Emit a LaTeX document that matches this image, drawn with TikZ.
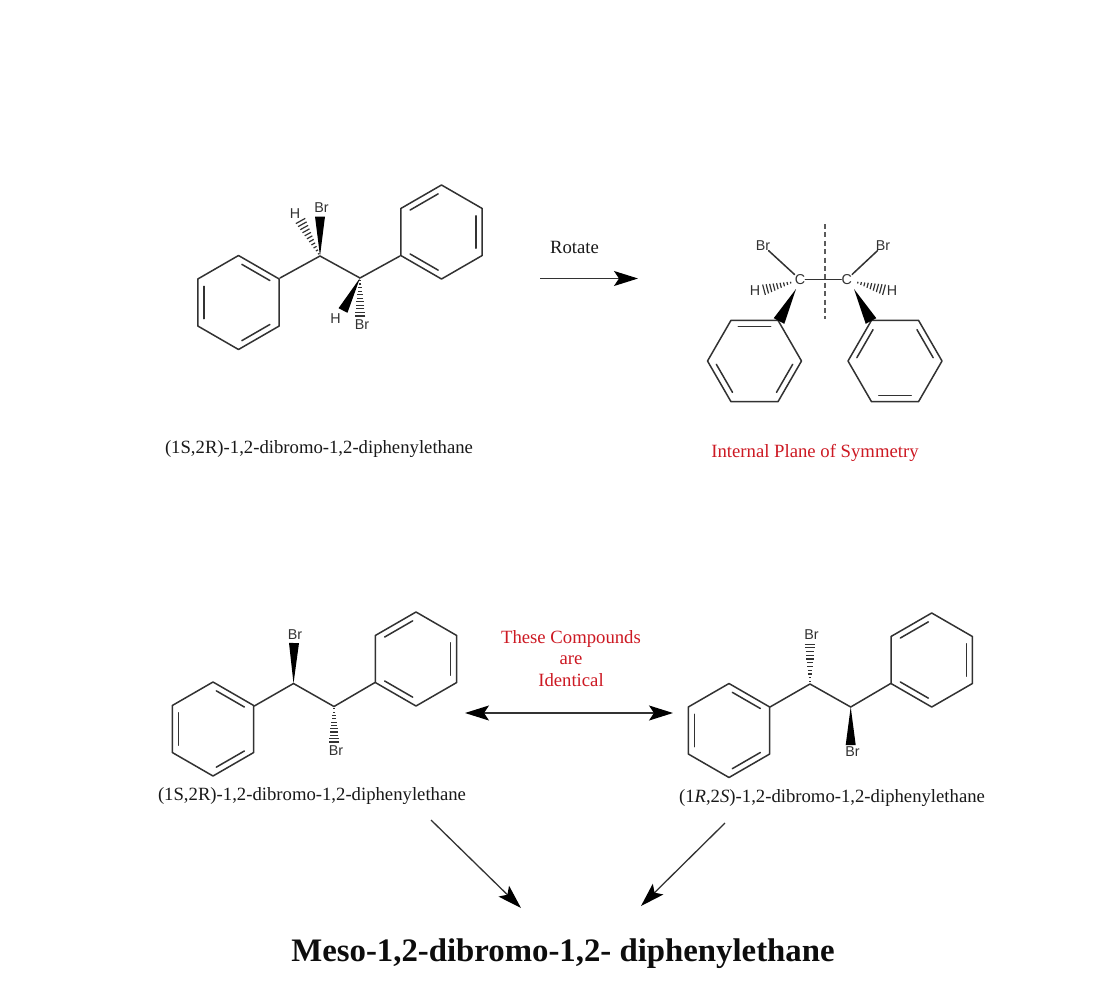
\documentclass[tikz,border=0pt]{standalone}
\usepackage{fontspec}
\setmainfont{Liberation Serif}
\newfontfamily\atomfont{Liberation Sans}
\usetikzlibrary{calc,arrows.meta}
\definecolor{ink}{RGB}{50,50,50}
\definecolor{redtext}{RGB}{205,25,35}
\tikzset{
  bond/.style={draw=ink,line width=1.5pt,line cap=round,line join=round},
  atom/.style={font=\atomfont\fontsize{14.3}{14}\selectfont,text=ink,inner sep=0pt},
  caption/.style={font=\fontsize{18.7}{20}\selectfont,text=black!90,inner sep=0pt},
  redcap/.style={font=\fontsize{18.7}{21.5}\selectfont,text=redtext,inner sep=0pt,align=center},
  bigcap/.style={font=\fontsize{32.8}{34}\selectfont\bfseries,text=black!95,inner sep=0pt},
  headtip/.tip={Stealth[length=24pt,width=15pt,inset=5pt,color=black]},
  rxn/.style={draw=ink,line width=1.3pt,-headtip},
  rxnboth/.style={draw=ink,line width=1.3pt,headtip-headtip},
  mirror/.style={draw=ink!80,line width=1.5pt,dash pattern=on 5pt off 3.4pt}
}
% benzene ring: centre x, centre y, angle of first vertex
\newcommand{\phring}[3]{%
  \begin{scope}[shift={(#1,#2)}]
    \draw[bond] (#3:47) -- (#3+60:47) -- (#3+120:47) -- (#3+180:47) -- (#3+240:47) -- (#3+300:47) -- cycle;
    \foreach \k in {0,120,240}{\draw[bond] (#3+\k+5:38.3) -- (#3+\k+55:38.3);}
  \end{scope}}
% hashed bond: from, to, strokes, half width at the far end
\newcommand{\hashbond}[4]{%
  \foreach \i in {1,...,#3}{%
    \pgfmathsetmacro{\tt}{(\i-0.3)/#3}%
    \pgfmathsetmacro{\hw}{0.5+#4*\tt}%
    \draw[draw=ink,line width=1.2pt] ($(#1)!\tt!(#2)!\hw pt!90:(#2)$) -- ($(#1)!\tt!(#2)!\hw pt!-90:(#2)$);}}
% solid wedge: tip, wide end, half width
\newcommand{\wedgebond}[3]{%
  \fill[black] (#1) -- ($(#2)!#3 pt!90:(#1)$) -- ($(#2)!#3 pt!-90:(#1)$) -- cycle;}
\begin{document}
\begin{tikzpicture}[x=1pt,y=-1pt]
\useasboundingbox[fill=white] (0,0) rectangle (1112,996);

% --- upper left molecule
\phring{238.5}{302.5}{-90}
\phring{441.5}{232}{-150}
\coordinate (a1) at (320,256);
\coordinate (a2) at (360,278);
\coordinate (ar) at (280,278);
\coordinate (br) at (400,256);
\draw[bond] (ar) -- (a1) -- (a2) -- (br);
\node[atom] (aBr1) at (321.5,207.5) {Br};
\node[atom] (aH1) at (295,213.5) {H};
\node[atom] (aBr2) at (362,325) {Br};
\node[atom] (aH2) at (335.5,318.5) {H};
\coordinate (aw1) at (320,216.5);
\coordinate (ah1) at (300,220);
\coordinate (aw2) at (343,310.5);
\coordinate (ah2) at (360,317);
\wedgebond{a1}{aw1}{5}
\hashbond{a1}{ah1}{11}{5}
\wedgebond{a2}{aw2}{5}
\hashbond{a2}{ah2}{11}{5}

% --- upper right molecule
\phring{754.5}{361}{-120}
\phring{895}{361}{180}
\node[atom] (bC1) at (800,279.5) {C};
\node[atom] (bC2) at (846.7,279.5) {C};
\node[atom] (bBr1) at (763,245.5) {Br};
\node[atom] (bBr2) at (883,245.5) {Br};
\node[atom] (bH1) at (755,291) {H};
\node[atom] (bH2) at (892,291) {H};
\draw[bond] (bC1) -- (bC2);
\draw[bond] (bBr1) -- (bC1);
\draw[bond] (bBr2) -- (bC2);
\coordinate (bh1s) at (793,282);
\coordinate (bh1e) at (763,290);
\coordinate (bh2s) at (855.5,282);
\coordinate (bh2e) at (885,290);
\hashbond{bh1s}{bh1e}{9}{5}
\hashbond{bh2s}{bh2e}{9}{5}
\coordinate (bt1) at (796,289);
\coordinate (bw1) at (779,321);
\coordinate (bt2) at (854,289);
\coordinate (bw2) at (871,321);
\wedgebond{bt1}{bw1}{6}
\wedgebond{bt2}{bw2}{6}
\coordinate (mTop) at (825,224);
\coordinate (mBot) at (825,319);
\draw[mirror] (mTop) -- (mBot);

% --- lower left molecule
\phring{213}{729}{-90}
\phring{416}{659}{-150}
\coordinate (c1) at (293.5,683.5);
\coordinate (c2) at (334,706.5);
\coordinate (cl) at (254.3,706);
\coordinate (cr) at (375,682.5);
\draw[bond] (cl) -- (c1) -- (c2) -- (cr);
\node[atom] (cBr1) at (295,634.5) {Br};
\node[atom] (cBr2) at (336,751) {Br};
\coordinate (cw) at (294,643);
\coordinate (ch) at (334,743);
\wedgebond{c1}{cw}{5}
\hashbond{c2}{ch}{11}{5}

% --- lower right molecule
\phring{729}{730.5}{-90}
\phring{931.7}{660}{-150}
\coordinate (d1) at (810,684);
\coordinate (d2) at (850.7,707);
\coordinate (dl) at (770,707);
\coordinate (dr) at (890.7,683.5);
\draw[bond] (dl) -- (d1) -- (d2) -- (dr);
\node[atom] (dBr1) at (811.5,635) {Br};
\node[atom] (dBr2) at (852.5,752) {Br};
\coordinate (dh) at (810,643);
\coordinate (dw) at (850.7,745);
\hashbond{d1}{dh}{11}{5}
\wedgebond{d2}{dw}{5}

% --- texts
\node[caption] (capA) at (319,449.5) {(1S,2R)-1,2-dibromo-1,2-diphenylethane};
\node[caption] (capB) at (312,796) {(1S,2R)-1,2-dibromo-1,2-diphenylethane};
\node[caption] (capC) at (832,798) {(1\textit{R},2\textit{S})-1,2-dibromo-1,2-diphenylethane};
\node[font=\fontsize{18.7}{20}\selectfont,text=black!90,inner sep=0pt] (rot) at (574.5,247) {Rotate};
\node[redcap] (sym) at (815,452.5) {Internal Plane of Symmetry};
\node[redcap] (same) at (571,658.5) {These Compounds\\are\\Identical};
\node[bigcap] (meso) at (563,954) {Meso-1,2-dibromo-1,2- diphenylethane};

% --- arrows
\coordinate (r1) at (540,278.5);
\coordinate (r2) at (638,278.5);
\draw[rxn] (r1) -- (r2);
\coordinate (e1) at (465,713);
\coordinate (e2) at (673,713);
\draw[rxnboth] (e1) -- (e2);
\coordinate (f1) at (431,820);
\coordinate (f2) at (521,908);
\draw[rxn] (f1) -- (f2);
\coordinate (g1) at (725,823);
\coordinate (g2) at (641,906);
\draw[rxn] (g1) -- (g2);
\end{tikzpicture}
\end{document}
